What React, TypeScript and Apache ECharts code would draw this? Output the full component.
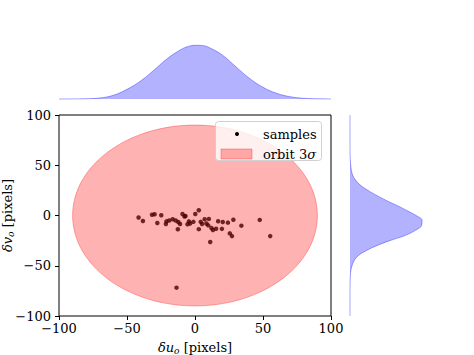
import React, { useEffect, useRef } from "react";
import * as echarts from "echarts";

// scatter samples [du, dv]
const samples: number[][] = [
  [-41.5, -2.0], [-38.3, -5.4], [-31.6, 0.8], [-29.7, 1.3], [-27.7, -7.4], [-24.8, 0.2],
  [-21.4, -8.4], [-21.0, -5.8], [-16.4, -3.8], [-14.2, -5.0], [-12.6, -13.7], [-12.3, -6.5],
  [-11.0, -8.4], [-9.2, 1.5], [-7.7, -1.0], [-5.5, -8.7], [-4.5, -5.8], [-3.6, -7.9],
  [-1.2, -6.3], [0.2, 1.5], [2.8, 5.2], [2.8, -13.6], [4.2, -6.3], [5.2, -8.5], [7.1, -3.8],
  [8.4, -7.9], [9.7, -9.8], [10.2, -3.4], [11.2, -26.3], [12.1, -12.5], [13.2, -14.5],
  [15.5, -13.2], [17.0, -5.7], [19.8, -13.3], [20.4, -6.4], [24.2, -7.1], [25.6, -17.8],
  [27.2, -20.5], [28.2, -4.3], [34.1, -10.1], [47.6, -4.4], [55.3, -20.5], [-13.6, -71.8],
  [-7.0, -0.5], [-19.0, -5.0],
];

// orbit 3-sigma ellipse: [cx, cy, rx, ry]
const orbitEllipse: number[][] = [[0, 0, 90, 90]];

// top marginal density (du)
const topX = [-100, -90, -80, -70, -60, -50, -40, -30, -20, -10, -5, 0, 5, 10, 20, 30, 40, 50, 60, 70, 80, 90, 100];
const topDensity = [0, 0.02, 0.07, 0.25, 0.92, 2.4, 4.46, 7.2, 10.1, 12.3, 13.0, 13.3, 13.25, 12.8, 10.9, 8.0, 5.13, 2.9, 1.41, 0.57, 0.17, 0.05, 0.01];

// right marginal density (dv), y from -100 to 100 step 5
const rightY = [-100, -95, -90, -85, -80, -75, -70, -65, -60, -55, -50, -45, -40, -35, -30, -25, -20, -15, -10, -5, 0, 5, 10, 15, 20, 25, 30, 35, 40, 45, 50, 55, 60, 65, 70, 75, 80, 85, 90, 95, 100];
const rightDensity = [0, 0, 0, 0, 0, 0.01, 0.02, 0.05, 0.11, 0.3, 0.73, 1.5, 3.0, 5.9, 9.8, 14.6, 20.1, 23.8, 26.2, 26.4, 24.2, 20.8, 17.2, 13.3, 9.8, 6.6, 3.9, 2.1, 1.0, 0.5, 0.25, 0.1, 0.04, 0.02, 0.01, 0, 0, 0, 0, 0, 0];

const FONT = "DejaVu Serif";
const minus = (v: number) => String(v).replace("-", "\u2212");

export default function App() {
  const ref = useRef<HTMLDivElement>(null);
  useEffect(() => {
    if (!ref.current) return;
    const chart = echarts.init(ref.current, undefined, { renderer: "svg" });
    const axisText = { fontFamily: FONT, fontSize: 13, color: "#000" };
    const nameRich = {
      i: { fontFamily: FONT, fontSize: 13, fontStyle: "italic" as const, color: "#000", lineHeight: 16 },
      s: { fontFamily: FONT, fontSize: 9, fontStyle: "italic" as const, color: "#000", lineHeight: 8, verticalAlign: "bottom" as const },
      n: { fontFamily: FONT, fontSize: 13, color: "#000", lineHeight: 16 },
    };
    chart.setOption({
      animation: false,
      backgroundColor: "#fff",
      grid: [
        { left: 59, top: 115, width: 272, height: 201, show: true, borderColor: "#000", borderWidth: 1, backgroundColor: "transparent", containLabel: false, outerBoundsMode: "none" },
        { left: 59, top: 40, width: 272, height: 59, containLabel: false, outerBoundsMode: "none" },
        { left: 350, top: 115, width: 80, height: 201, containLabel: false, outerBoundsMode: "none" },
      ],
      xAxis: [
        {
          gridIndex: 0, type: "value", min: -100, max: 100, interval: 50,
          splitLine: { show: false },
          axisLine: { show: false, onZero: false },
          axisTick: { show: true, inside: false, length: 4, lineStyle: { color: "#000" } },
          axisLabel: { ...axisText, margin: 6, formatter: minus },
          name: "{i|δu}{s|o}{n| [pixels]}",
          nameLocation: "middle", nameGap: 23, nameMoveOverlap: false,
          nameTextStyle: { rich: nameRich },
        },
        { gridIndex: 1, type: "value", min: -100, max: 100, show: false },
        { gridIndex: 2, type: "value", min: 0, max: 29.3, show: false },
      ],
      yAxis: [
        {
          gridIndex: 0, type: "value", min: -100, max: 100, interval: 50,
          splitLine: { show: false },
          axisLine: { show: false, onZero: false },
          axisTick: { show: true, inside: false, length: 4, lineStyle: { color: "#000" } },
          axisLabel: { ...axisText, margin: 8, formatter: minus },
          name: "{i|δv}{s|o}{n| [pixels]}",
          nameLocation: "middle", nameGap: 44, nameMoveOverlap: false,
          nameTextStyle: { rich: nameRich },
        },
        { gridIndex: 1, type: "value", min: 0, max: 14.6, show: false },
        { gridIndex: 2, type: "category", data: rightY.map(String), boundaryGap: false, show: false },
      ],
      series: [
        {
          type: "scatter", xAxisIndex: 0, yAxisIndex: 0, data: samples,
          symbolSize: 4.5, itemStyle: { color: "#000" }, z: 2,
        },
        {
          type: "custom", xAxisIndex: 0, yAxisIndex: 0, data: orbitEllipse, z: 3,
          encode: { x: 0, y: 1 },
          renderItem: (params: any, api: any) => {
            const c = api.coord([api.value(0), api.value(1)]);
            const s = api.size([api.value(2), api.value(3)]);
            return {
              type: "ellipse",
              shape: { cx: c[0], cy: c[1], rx: s[0], ry: s[1] },
              style: { fill: "rgba(255,0,0,0.3)", stroke: "rgba(255,0,0,0.3)", lineWidth: 1 },
            };
          },
        },
        {
          type: "line", xAxisIndex: 1, yAxisIndex: 1, clip: false,
          data: topX.map((x, i) => [x, topDensity[i]]),
          smooth: 0.4, symbol: "none",
          lineStyle: { color: "rgba(0,0,255,0.35)", width: 1 },
          areaStyle: { color: "rgba(0,0,255,0.3)", opacity: 1 },
        },
        {
          type: "line", xAxisIndex: 2, yAxisIndex: 2, clip: false,
          data: rightDensity.map((v, i) => [v, String(rightY[i])]),
          smooth: 0.4, symbol: "none",
          lineStyle: { color: "rgba(0,0,255,0.35)", width: 1 },
          areaStyle: { color: "rgba(0,0,255,0.3)", opacity: 1 },
        },
      ],
      graphic: [
        {
          type: "rect", left: 215, top: 121, z: 100,
          shape: { width: 106, height: 39, r: 3 },
          style: { fill: "rgba(255,255,255,0.8)", stroke: "#d0d0d0", lineWidth: 1 },
        },
        { type: "circle", x: 237, y: 134, z: 101, shape: { cx: 0, cy: 0, r: 2 }, style: { fill: "#000" } },
        {
          type: "rect", x: 221, y: 149, z: 101, shape: { width: 31, height: 10 },
          style: { fill: "rgba(255,0,0,0.3)", stroke: "rgba(255,0,0,0.3)", lineWidth: 1 },
        },
        {
          type: "text", x: 263, y: 134, z: 101,
          style: { text: "samples", font: `13px "${FONT}"`, fill: "#000", verticalAlign: "middle", align: "left" },
        },
        {
          type: "text", x: 263, y: 154, z: 101,
          style: {
            text: "{n|orbit 3}{i|σ}", verticalAlign: "middle", align: "left",
            rich: {
              n: { fontFamily: FONT, fontSize: 13, fill: "#000" },
              i: { fontFamily: FONT, fontSize: 13, fontStyle: "italic", fill: "#000" },
            },
          },
        },
      ],
    });
    return () => chart.dispose();
  }, []);
  return <div ref={ref} style={{ position: "absolute", left: 0, top: 0, width: 474, height: 355 }} />;
}
